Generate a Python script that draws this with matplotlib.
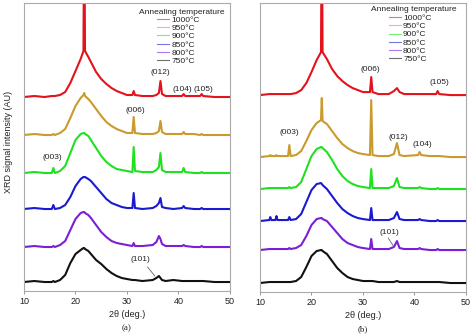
import matplotlib
matplotlib.use("Agg")
import matplotlib.pyplot as plt

plt.rcParams['font.family'] = ['Liberation Sans', 'DejaVu Sans']

# temperatures, top curve first
temps = ["1000°C", "950°C", "900°C", "850°C", "800°C", "750°C"]
colors = ["#e3121b", "#c99a2e", "#1fe11f", "#1a1ad0", "#7b1fd6", "#111111"]

# ---- panel (a) ----
tt_a = [10, 12, 14, 15.4, 15.7, 16.0, 17, 18, 19, 20, 21, 21.55, 21.7, 21.85,
        22.5, 23, 24, 25, 26, 27, 28, 29, 30, 31.05, 31.3, 31.55, 33, 35, 35.7,
        36.2, 36.5, 36.8, 37.5, 39, 40.7, 41.0, 41.3, 43, 44.2, 44.5, 44.8, 47, 50]
a_1000 = [0, 1, 0, 1, 1, 1, 2, 5, 14, 26, 38, 46, 200, 46, 40, 35, 25, 18, 13, 9, 6, 4, 2,
          2, 6, 2, 1, 1, 2, 4, 16, 3, 1, 1, 1, 3, 1, 1, 1, 3, 1, 0, 0]
a_950 = [0, 1, 0, 0, 1, 0, 2, 6, 17, 29, 37, 40, 42, 39, 36, 33, 26, 19, 13, 9, 6, 4, 2,
         2, 18, 2, 1, 1, 2, 4, 14, 3, 1, 1, 1, 3, 1, 1, 0, 1, 0, 0, 0]
a_900 = [0, 1, 0, 0, 5, 0, 2, 7, 20, 33, 39, 40, 40, 39, 37, 33, 25, 17, 11, 7, 4, 3, 2,
         1, 26, 2, 1, 1, 3, 6, 20, 3, 1, 1, 1, 5, 1, 0, 0, 1, 0, 0, 0]
a_850 = [0, 1, 0, 0, 4, 0, 1, 4, 12, 23, 30, 32, 32, 32, 30, 28, 22, 16, 10, 6, 4, 2, 1,
         1, 16, 1, 0, 1, 3, 6, 11, 2, 1, 0, 1, 3, 1, 0, 0, 1, 0, 0, 0]
a_800 = [0, 1, 0, 0, 1, 0, 2, 6, 17, 28, 34, 35, 35, 34, 32, 29, 22, 15, 10, 6, 4, 3, 2,
         1, 4, 1, 1, 2, 5, 11, 8, 3, 1, 1, 1, 2, 1, 0, 0, 1, 0, 0, 0]
a_750 = [0, 1, 0, 0, 1, 0, 2, 7, 19, 28, 32, 34, 34, 33, 31, 28, 22, 18, 13, 9, 6, 4, 3,
         2, 2, 2, 1, 2, 4, 6, 4, 2, 1, 2, 1, 1, 1, 1, 1, 1, 1, 0, 0]
offsets_a = [194, 156, 118, 82, 44, 9]

# ---- panel (b) ----
tt_b = [10, 11.8, 12.0, 12.2, 13.0, 13.2, 13.4, 14.5, 15.45, 15.7, 15.95, 17, 18, 19, 20,
        21, 21.85, 22.0, 22.15, 23, 24, 25, 26, 27, 28, 29, 30, 31.35, 31.6, 31.85, 33, 35,
        36.0, 36.6, 37.1, 38, 40.7, 41.0, 41.3, 43, 44.2, 44.5, 44.8, 47, 50]
b_1000 = [0, 1, 1, 1, 1, 1, 1, 1, 1, 1, 1, 2, 5, 12, 23, 35, 43, 200, 43, 36, 26, 19, 14,
          10, 7, 5, 3, 3, 18, 3, 1, 1, 4, 7, 3, 1, 1, 1, 1, 1, 1, 4, 1, 0, 0]
b_950 = [0, 1, 2, 1, 1, 2, 1, 1, 1, 12, 1, 2, 6, 16, 27, 34, 37, 59, 36, 33, 26, 19, 13,
         9, 6, 4, 3, 2, 57, 2, 1, 1, 3, 14, 2, 1, 2, 5, 2, 1, 1, 1, 1, 0, 0]
b_900 = [0, 1, 1, 1, 1, 1, 1, 1, 1, 2, 1, 2, 7, 20, 33, 40, 42, 42, 41, 37, 29, 20, 13,
         8, 5, 3, 2, 1, 20, 1, 1, 1, 3, 11, 2, 1, 1, 2, 1, 0, 0, 1, 0, 0, 0]
b_850 = [0, 1, 4, 1, 1, 5, 1, 1, 1, 4, 1, 2, 7, 19, 31, 37, 38, 37, 36, 32, 25, 18, 12,
         8, 5, 3, 2, 1, 13, 1, 1, 1, 3, 9, 2, 1, 1, 2, 1, 0, 0, 1, 0, 0, 0]
b_800 = [0, 1, 1, 1, 1, 1, 1, 1, 1, 2, 1, 2, 5, 14, 25, 31, 32, 32, 31, 29, 23, 17, 11,
         7, 5, 3, 2, 1, 11, 1, 1, 1, 3, 9, 2, 1, 1, 2, 1, 0, 0, 1, 0, 0, 0]
b_750 = [0, 1, 1, 1, 1, 1, 1, 1, 1, 1, 1, 2, 6, 16, 27, 32, 33, 33, 32, 29, 22, 15, 10,
         6, 4, 3, 2, 2, 2, 2, 1, 1, 1, 2, 1, 1, 1, 1, 1, 1, 1, 1, 1, 0, 0]
offsets_b = [197, 135, 103, 71, 42, 9]

# peak labels: (text, 2theta, height)
labels_a = [("(012)", 36.5, 219), ("(104)", 40.8, 202), ("(105)", 44.9, 202),
            ("(006)", 31.7, 181), ("(003)", 15.5, 134), ("(101)", 32.6, 32)]
labels_b = [("(006)", 31.4, 223), ("(105)", 44.9, 210), ("(003)", 15.7, 160),
            ("(012)", 36.9, 155), ("(104)", 41.6, 148), ("(101)", 35.1, 60)]

fig = plt.figure(figsize=(4.74, 3.34), dpi=100)
ax_a = fig.add_axes([0.0506, 0.1287, 0.4346, 0.8623])
ax_b = fig.add_axes([0.5485, 0.1257, 0.4346, 0.8650])

panels = [
    (ax_a, tt_a, [a_1000, a_950, a_900, a_850, a_800, a_750], offsets_a, labels_a,
     ((34.0, 24), (35.4, 15)), 288, (0.558, 0.968), (0.646, 0.955), "(a)"),
    (ax_b, tt_b, [b_1000, b_950, b_900, b_850, b_800, b_750], offsets_b, labels_b,
     ((34.9, 54), (35.9, 46)), 289, (0.539, 0.978), (0.626, 0.962), "(b)"),
]

for ax, tt, curves, offs, labs, leader, ytop, title_pos, leg_pos, tag in panels:
    for vals, off, c, name in zip(curves, offs, colors, temps):
        ax.plot(tt, [v + off for v in vals], color=c, lw=1.5, label=name)
    for txt, x, y in labs:
        ax.text(x, y, txt, fontsize=6, ha='center', va='center', color='#222222')
    ax.plot([leader[0][0], leader[1][0]], [leader[0][1], leader[1][1]],
            color='#666666', lw=0.6)
    ax.set_xlim(10, 50)
    ax.set_ylim(0, ytop)
    ax.set_yticks([])
    ax.set_xticks([10, 20, 30, 40, 50])
    ax.tick_params(axis='x', direction='out', length=2.5, width=0.6,
                   colors='#888888', labelcolor='#222222', labelsize=6.5, pad=2)
    for sp in ax.spines.values():
        sp.set_color('#aaaaaa')
        sp.set_linewidth(0.8)
    ax.set_xlabel("2θ (deg.)", fontsize=6.5, color='#222222', labelpad=3)
    ax.text(title_pos[0], title_pos[1], "Annealing temperature", transform=ax.transAxes,
            fontsize=6, va='center', ha='left', color='#222222')
    leg = ax.legend(loc='upper left', bbox_to_anchor=leg_pos, frameon=False,
                    fontsize=6, handlelength=1.4, handletextpad=0.3,
                    labelspacing=0.05, borderpad=0, borderaxespad=0)
    for t in leg.get_texts():
        t.set_color('#222222')
    for h in leg.get_lines():
        h.set_linewidth(0.8)
        h.set_alpha(0.6)
    ax.text(0.5, -0.128, tag, transform=ax.transAxes, ha='center', va='center',
            fontsize=6.5, family='Liberation Serif', color='#222222')

fig.text(0.017, 0.575, "XRD signal intensity (AU)", rotation=90, ha='center',
         va='center', fontsize=6.5, color='#222222')

fig.savefig("out.png", dpi=100)
